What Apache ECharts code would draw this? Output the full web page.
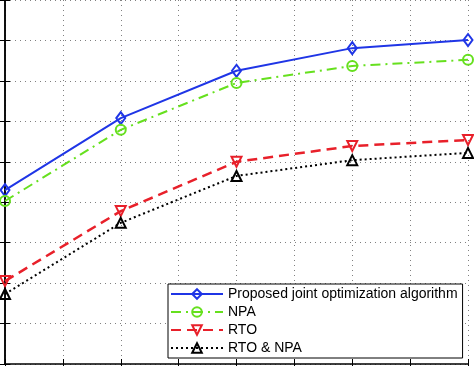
<!DOCTYPE html>
<html>
<head>
<meta charset="utf-8">
<script src="https://cdn.jsdelivr.net/npm/echarts@6/dist/echarts.min.js"></script>
<style>
  html, body { margin: 0; padding: 0; background: #fff; }
  #main { width: 474px; height: 366px; }
</style>
</head>
<body>
<div id="main"></div>
<script>
// x positions of the samples (axis has 8 unlabeled intervals)
var xValues = [0, 2, 4, 6, 8];
// y values in grid units (axis 0..9, labels cropped away in the source)
var proposed = [4.30, 6.08, 7.25, 7.81, 8.01];
var npa = [4.03, 5.79, 6.95, 7.37, 7.52];
var rto = [2.05, 3.78, 5.00, 5.39, 5.54];
var rtoNpa = [1.73, 3.49, 4.65, 5.04, 5.22];
var names = ['Proposed joint optimization algorithm', 'NPA', 'RTO', 'RTO & NPA'];

function pairs(ys) {
    return ys.map(function (y, i) { return [xValues[i], y]; });
}

var gridLine = { show: true, lineStyle: { color: '#808080', width: 1, type: [1, 4] } };
var tickIn = { show: true, inside: true, length: 5, lineStyle: { color: '#000', width: 1 } };
var axisLine = { show: true, lineStyle: { color: '#000', width: 1.5 } };

function makeSeries(name, data, color, lineType, width, symbol, size, rotate) {
    return {
        name: name,
        type: 'line',
        data: pairs(data),
        clip: false,
        symbol: symbol,
        symbolSize: size,
        symbolRotate: rotate || 0,
        lineStyle: { color: color, width: width, type: lineType },
        itemStyle: { color: 'rgba(255,255,255,0)', borderColor: color, borderWidth: 2 },
        emphasis: { disabled: true }
    };
}

var chart = echarts.init(document.getElementById('main'));
chart.setOption({
    animation: false,
    grid: { left: 5, top: -1, width: 463, height: 365 },
    xAxis: [{
        type: 'value', min: 0, max: 8, interval: 1,
        axisLine: axisLine, axisTick: tickIn, axisLabel: { show: false },
        splitLine: gridLine
    }, {
        type: 'value', position: 'top', min: 0, max: 8, interval: 1,
        axisLine: { show: false }, axisTick: tickIn, axisLabel: { show: false },
        splitLine: { show: false }
    }],
    yAxis: [{
        type: 'value', min: 0, max: 9, interval: 1,
        axisLine: axisLine, axisTick: tickIn, axisLabel: { show: false },
        splitLine: gridLine
    }, {
        type: 'value', position: 'right', min: 0, max: 9, interval: 1,
        axisLine: axisLine, axisTick: tickIn, axisLabel: { show: false },
        splitLine: { show: false }
    }],
    legend: {
        orient: 'vertical',
        left: 168, top: 284,
        padding: [3, 5, 3, 2],
        itemGap: 4,
        itemWidth: 52,
        itemHeight: 12,
        backgroundColor: '#fff',
        borderColor: '#000',
        borderWidth: 1,
        borderRadius: 0,
        selectedMode: false,
        data: names,
        textStyle: { fontFamily: 'Liberation Sans', fontSize: 14, color: '#000' }
    },
    series: [
        makeSeries(names[0], proposed, '#1f35e6', 'solid', 2, 'diamond', [9, 12]),
        makeSeries(names[1], npa, '#66e01e', [10, 5, 2, 5], 2, 'circle', 10),
        makeSeries(names[2], rto, '#e8202a', [10, 6], 2.5, 'triangle', 10, 180),
        makeSeries(names[3], rtoNpa, '#000000', [2, 3], 2, 'triangle', 10)
    ]
});
</script>
</body>
</html>
